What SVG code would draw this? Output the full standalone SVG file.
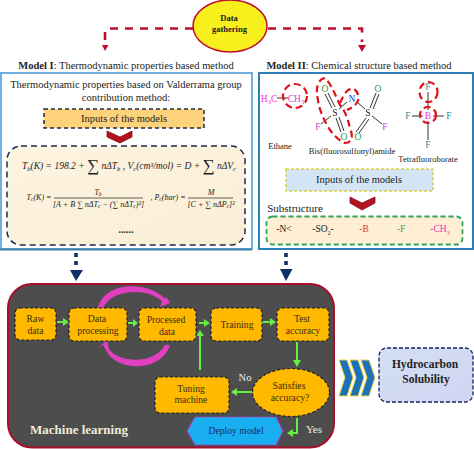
<svg xmlns="http://www.w3.org/2000/svg" width="474" height="449" viewBox="0 0 474 449">
<style>
text{font-family:"Liberation Serif","Times New Roman",serif;fill:#222;text-anchor:middle}
.eq{font-style:italic}
.b{font-weight:bold}
.red{fill:none;stroke:#c00d2e;stroke-width:2.600;stroke-dasharray:8 7}
.blu{fill:none;stroke:#10306a;stroke-width:3.600;stroke-dasharray:4 4}
.node{fill:#ffba00;stroke:#222;stroke-width:1.200;stroke-dasharray:3 2}
.ml{font-size:9.700px;fill:#3a2c10}
.g{fill:none;stroke:#66ee44;stroke-width:2}
.gf{fill:#66ee44}
.mg{fill:#e040c0}
.hl{fill:none;stroke:#e0101c;stroke-width:2.200;stroke-dasharray:7 4}
.bond{stroke:#333;stroke-width:1;fill:none}
.chev{fill:#b5121f;stroke:#7d1020;stroke-width:.8}
.cv{fill:#1a72b8;stroke:#f0d040;stroke-width:1}
</style>
<defs>
<linearGradient id="cream" x1="0" y1="0" x2="1" y2="1"><stop offset="0" stop-color="#fdf3df"/><stop offset="1" stop-color="#faeed6"/></linearGradient>
<linearGradient id="lav" x1="0" y1="0" x2="1" y2="1"><stop offset="0" stop-color="#d4def5"/><stop offset="1" stop-color="#cfd6f2"/></linearGradient>
</defs>

<g id="connectors">
<path class="red" d="M193 28.500H108"/>
<path class="red" d="M105 32V41"/>
<path fill="#c00d2e" d="M102 45H108.500L105 51Z"/>
<path class="red" d="M268 28.500H362V42"/>
<path fill="#c00d2e" d="M358 45H366L362 52Z"/>
<path class="blu" d="M76 253V268"/>
<path fill="#10306a" d="M70 270H83L76 281Z"/>
<path class="blu" d="M286 253V268"/>
<path fill="#10306a" d="M280 269H292.500L286 281Z"/>
</g>

<g id="data-gathering">
<ellipse cx="230" cy="26" rx="37" ry="26" fill="#f8f01c" stroke="#c00d2e" stroke-width="1.500"/>
<text class="b" x="229" y="21" font-size="8.500">Data</text>
<text class="b" x="229.500" y="32" font-size="8.500">gathering</text>
</g>

<g id="model-1">
<text x="126" y="69" font-size="10.500"><tspan class="b">Model I</tspan>: Thermodynamic properties based method</text>
<rect x="1" y="73" width="251" height="176" fill="#fff" stroke="#6fb0e0" stroke-width="2"/>
<path d="M0 249.500H252" stroke="#3f7fa8" stroke-width="2"/>
<text x="126" y="88" font-size="10.500">Thermodynamic properties based on Valderrama group</text>
<text x="126" y="101" font-size="10.500">contribution method:</text>
<rect x="44" y="109" width="160" height="19" fill="#fcd27a" stroke="#1c2a50" stroke-width="1.500" stroke-dasharray="4 3"/>
<text x="124" y="122" font-size="10.500">Inputs of the models</text>
<path class="chev" d="M107 131L120 137L132 131V137L120 143L107 137Z"/>
<rect x="7" y="146" width="238" height="99" rx="14" fill="url(#cream)" stroke="#1c2a50" stroke-width="1.500" stroke-dasharray="6 4"/>
<text class="eq" x="129" y="169" font-size="9.500">T<tspan font-size="6.500" dy="2">b</tspan><tspan dy="-2">(K) = 198.2 + </tspan><tspan font-size="17" font-style="normal" dy="2">∑</tspan><tspan dy="-2"> nΔT</tspan><tspan font-size="6.500" dy="2">b</tspan><tspan dy="-2">   , V</tspan><tspan font-size="6.500" dy="2">c</tspan><tspan dy="-2">(cm³/mol) = D + </tspan><tspan font-size="17" font-style="normal" dy="2">∑</tspan><tspan dy="-2"> nΔV</tspan><tspan font-size="6.500" dy="2">c</tspan></text>
<text class="eq" x="39" y="200" font-size="8">T<tspan font-size="5.500" dy="1">c</tspan><tspan dy="-1">(K) =</tspan></text>
<text class="eq" x="98" y="195" font-size="8">T<tspan font-size="5.500" dy="1">b</tspan></text>
<path d="M54 198H143M188 198H233" stroke="#222" stroke-width=".7"/>
<text class="eq" x="98.500" y="207" font-size="8">[A + B ∑ nΔT<tspan font-size="5.500" dy="1">c</tspan><tspan dy="-1"> − (∑ nΔT</tspan><tspan font-size="5.500" dy="1">c</tspan><tspan dy="-1">)²]</tspan></text>
<text class="eq" x="168" y="200" font-size="8">, P<tspan font-size="5.500" dy="1">c</tspan><tspan dy="-1">(bar) =</tspan></text>
<text class="eq" x="211" y="195" font-size="8">M</text>
<text class="eq" x="211" y="207" font-size="8">[C + ∑ nΔP<tspan font-size="5.500" dy="1">c</tspan><tspan dy="-1">]²</tspan></text>
<text x="126" y="233" font-size="10" class="b">......</text>
</g>

<g id="model-2">
<text x="359" y="69" font-size="10.500"><tspan class="b">Model II</tspan>: Chemical structure based method</text>
<rect x="259" y="73" width="214" height="176" fill="#fff" stroke="#2d7fb8" stroke-width="2"/>
<g id="ethane">
<text x="269" y="102" font-size="9.500" style="fill:#e838d0">H<tspan font-size="6.500" dy="2">3</tspan><tspan dy="-2">C</tspan></text>
<path class="bond" d="M277 98H288"/>
<text x="296" y="102" font-size="9.500" style="fill:#e838d0">CH<tspan font-size="6.500" dy="2">3</tspan></text>
<ellipse cx="295" cy="96" rx="12" ry="12" class="hl"/>
<text x="280" y="149" font-size="8.500">Ethane</text>
</g>
<g id="fsi">
<text x="325" y="92" font-size="9.500" style="fill:#2c9a40">O</text>
<text x="378" y="92" font-size="9.500" style="fill:#2c9a40">O</text>
<text x="352" y="102" font-size="9.500" style="fill:#2040d0">N</text>
<text x="335" y="116" font-size="9.500">S</text>
<text x="368" y="116" font-size="9.500">S</text>
<text x="318" y="130" font-size="9.500" style="fill:#d040d0">F</text>
<text x="385" y="130" font-size="9.500" style="fill:#d040d0">F</text>
<text x="344" y="140" font-size="9.500" style="fill:#2c9a40">O</text>
<text x="358" y="140" font-size="9.500" style="fill:#2c9a40">O</text>
<path class="bond" d="M325 94L332 108M328 93L335 107M336 118L341 132M339 117L344 131M339 109L347 102M357 102L365 109M370 108L376 93M373 109L379 94M366 118L356 132M369 119L359 133M321 124L331 116M372 116L382 124"/>
<path class="hl" d="M325 78C318 79 315 88 318 100C319 110 325 122 330 130C335 137 340 141 345 143C351 143 354 138 350 128C348 120 346 112 340 105C335 95 332 85 325 78Z"/>
<path class="hl" d="M340 103C344 94 348 87 354 89C359 92 360 100 356 104C352 108 349 109 347 110"/>
<text x="352" y="154" font-size="8.500">Bis(fluorosulfonyl)amide</text>
</g>
<g id="bf4">
<text x="428" y="90" font-size="9.500" style="fill:#3b8a90">F</text>
<text x="408" y="119" font-size="9.500" style="fill:#3b8a90">F</text>
<text x="449" y="119" font-size="9.500" style="fill:#3b8a90">F</text>
<text x="428" y="148" font-size="9.500" style="fill:#3b8a90">F</text>
<text x="428" y="119" font-size="9.500" style="fill:#e838d0">B</text>
<path class="bond" d="M428 92V110M428 121V140M412 116H423M433 116H444"/>
<ellipse cx="428.500" cy="92" rx="9" ry="10" class="hl"/>
<ellipse cx="428" cy="115" rx="8" ry="8" class="hl" stroke-dasharray="6 3"/>
<text x="428" y="162" font-size="8.500">Tetrafluoroborate</text>
</g>
<rect x="286" y="169" width="147" height="22" fill="#d3e4f6" stroke="#d9d43c" stroke-width="1.500" stroke-dasharray="3 2"/>
<text x="359" y="183" font-size="10.500">Inputs of the models</text>
<path class="chev" d="M350 197L362 203L375 197V203L362 210L350 203Z"/>
<text x="295" y="212" font-size="11">Substructure</text>
<rect x="266.500" y="216.500" width="196" height="28" rx="6" fill="#fdeed4" stroke="#2da55a" stroke-width="1.800" stroke-dasharray="5 3"/>
<text x="284" y="232" font-size="9.500">-N&lt;</text>
<text x="323" y="232" font-size="9.500">-SO<tspan font-size="6" dy="3">2</tspan><tspan dy="-3">-</tspan></text>
<text x="364" y="232" font-size="9.500" style="fill:#e0302c">-B</text>
<text x="401" y="232" font-size="9.500" style="fill:#2cb04c">-F</text>
<text x="440" y="232" font-size="9.500" style="fill:#e838c0">-CH<tspan font-size="6" dy="3">3</tspan></text>
</g>

<g id="machine-learning">
<rect x="8" y="284" width="326" height="163.500" rx="24" fill="#4d4d4d" stroke="#a80f2c" stroke-width="2"/>
<text class="b" x="79" y="434" font-size="13" style="fill:#f2ecd8">Machine learning</text>
</g>

<g id="ml-connectors">
<path class="g" d="M57 322H64"/><path class="gf" d="M63 318L69 322L63 326Z"/>
<path class="g" d="M128 323H134"/><path class="gf" d="M133 319L138 323L133 327Z"/>
<path class="g" d="M199 323H205"/><path class="gf" d="M204 319L210 323L204 327Z"/>
<path class="g" d="M262 322H271"/><path class="gf" d="M270 318L276 322L270 326Z"/>
<path class="g" d="M200 370V335"/><path class="gf" d="M196 336L200 330L204 336Z"/>
<path class="g" d="M297 342V361"/><path class="gf" d="M293 360L297 367L301 360Z"/>
<path class="g" d="M252 392H236"/><path class="gf" d="M237 388L231 392L237 396Z"/>
<path class="g" d="M297 418V433H292"/><path class="gf" d="M293 429L287 433L293 437Z"/>
<path class="mg" d="M98 308C104 281 148 281 164 298L167 298L170 303L160 307L162 301C148 288 112 288 103 308Z"/>
<path class="mg" d="M170 345C162 372 118 372 107 352L103 345L98 348L107 340L109 349C120 364 155 364 165 345Z"/>
</g>

<g id="raw-data"><rect class="node" x="15" y="308" width="41" height="32" rx="5"/><text class="ml" x="35.500" y="322">Raw</text><text class="ml" x="35.500" y="334">data</text></g>
<g id="data-processing"><rect class="node" x="69" y="308" width="58" height="33" rx="5"/><text class="ml" x="97" y="322">Data</text><text class="ml" x="98" y="334">processing</text></g>
<g id="processed-data"><rect class="node" x="139" y="308" width="57" height="33" rx="5"/><text class="ml" x="166" y="323">Processed</text><text class="ml" x="167" y="335">data</text></g>
<g id="training"><rect class="node" x="211" y="308" width="51" height="33" rx="5"/><text class="ml" x="237" y="328">Training</text></g>
<g id="test-accuracy"><rect class="node" x="277" y="308" width="52" height="33" rx="5"/><text class="ml" x="302" y="322">Test</text><text class="ml" x="303" y="334">accuracy</text></g>
<g id="satisfies"><ellipse class="node" cx="291" cy="392.500" rx="38.500" ry="24"/><text class="ml" x="289" y="389">Satisfies</text><text class="ml" x="290" y="401">accuracy?</text></g>
<g id="tuning"><rect class="node" x="155" y="377" width="74" height="36" rx="5"/><text class="ml" x="191" y="392">Tuning</text><text class="ml" x="191" y="403">machine</text></g>
<g id="deploy"><path d="M195 417H276L283 431L276 445H195L187 431Z" fill="#18aef0" stroke="#c030c0" stroke-width="1.200" stroke-dasharray="3 2"/><text class="ml" x="236" y="434" style="fill:#10306a">Deploy model</text></g>
<text x="245" y="381" font-size="10.500" style="fill:#f0f0e8">No</text>
<text x="314" y="433" font-size="11" style="fill:#f0f0e8">Yes</text>

<g id="chevrons">
<path class="cv" d="M339 360H347L353 377.500L347 396H339L345 377.500Z"/>
<path class="cv" d="M350 360H358L364 377.500L358 396H350L356 377.500Z"/>
<path class="cv" d="M361 360H369L375 377.500L369 396H361L367 377.500Z"/>
</g>
<g id="hydrocarbon">
<rect x="379" y="348" width="94" height="54" rx="8" fill="url(#lav)" stroke="#14245c" stroke-width="1.300" stroke-dasharray="4 2"/>
<text class="b" x="425" y="368" font-size="11.500">Hydrocarbon</text>
<text class="b" x="426" y="383" font-size="11.500">Solubility</text>
</g>
</svg>
